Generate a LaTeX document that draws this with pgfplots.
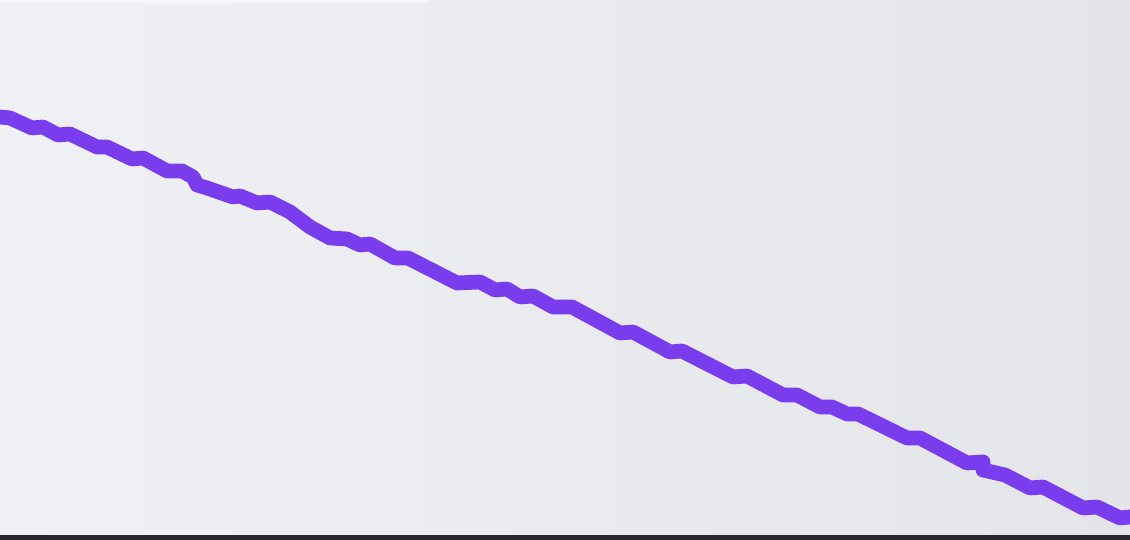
\documentclass[border=0pt]{standalone}
\usepackage{pgfplots}
\pgfplotsset{compat=1.18}
\definecolor{lineviolet}{HTML}{7A3DEE}
\definecolor{bgleft}{HTML}{F0F1F4}
\definecolor{bgright}{HTML}{E3E5E9}
\definecolor{barbottom}{HTML}{27282C}
\begin{document}
\begin{tikzpicture}
\begin{axis}[
    scale only axis,
    width=11.3cm, height=5.4cm,
    xmin=0, xmax=1130, ymin=0, ymax=540,
    y dir=reverse,
    hide axis,
    clip=true,
    axis background/.style={shade, left color=bgleft, right color=bgright},
]
% thin pale strip at the top left and dark strip at the bottom
\fill[white, opacity=0.45] (axis cs:0,0) rectangle (axis cs:430,3);
\addplot[lineviolet, line width=4.2pt, line join=round, line cap=round] coordinates {
(-5,116)(0,117)(10,118)(32,128)(43,127)(58,135)(70,134)(97,147)(107,147)
(132,159)(143,158)(167,171)(182,171)(193,177)(197,185)(207,188)(233,197)
(240,196)(257,203)(270,202)(290,212)(310,227)(330,238)(347,239)(360,245)
(370,244)(395,258)(408,258)(457,283)(480,282)(495,290)(507,289)(520,297)
(533,296)(553,307)(572,307)(620,333)(633,332)(670,352)(682,351)(733,377)
(747,376)(783,395)(797,395)(820,407)(832,407)(847,414)(858,414)(907,438)
(920,438)(967,463)(983,462)(983,470)(1005,475)(1030,488)(1043,487)
(1083,508)(1097,507)(1120,518)(1130,517)(1135,516)
};
\fill[barbottom] (axis cs:0,535) rectangle (axis cs:1130,540);
\end{axis}
\end{tikzpicture}
\end{document}
